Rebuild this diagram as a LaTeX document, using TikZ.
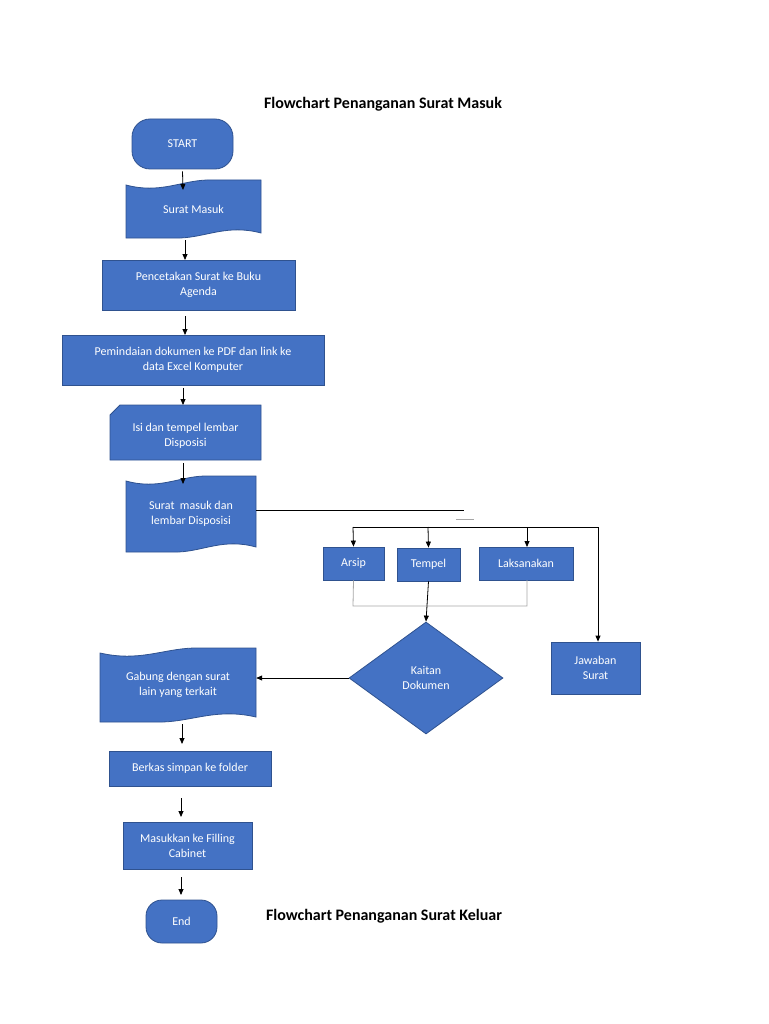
\documentclass[tikz,border=0pt]{standalone}
\usepackage{fontspec}
\setmainfont{Carlito}
\usetikzlibrary{shapes.geometric,arrows.meta}
\definecolor{fillb}{HTML}{4472C4}
\definecolor{edgeb}{HTML}{2F528F}
\newcommand{\tapeshape}[6]{% name x0 y0 x1 y1 text
  \pgfmathsetmacro{\tw}{#4-#2}
  \fill[fillb,draw=edgeb,line width=0.8pt] (#2,#3+5) .. controls (#2+0.25*\tw,#3+14) and (#2+0.4*\tw,#3+1) .. (#2+0.6*\tw,#3) -- (#4,#3) -- (#4,#5-5) .. controls (#4-0.25*\tw,#5-14) and (#4-0.4*\tw,#5-1) .. (#4-0.6*\tw,#5) -- (#2,#5) -- cycle;
  \node[txt,minimum width={(#4-#2)*1pt},minimum height={(#5-#3)*1pt},inner sep=0pt] (#1) at ({(#2+#4)/2},{(#3+#5)/2}) {#6};
}
\tikzset{
  txt/.style={text=white,font=\fontsize{12}{15}\selectfont,align=center},
  box/.style={txt,rectangle,fill=fillb,draw=edgeb,line width=0.8pt,inner sep=0pt},
  term/.style={box,rounded corners=18pt},
  arr/.style={-{Triangle[length=6pt,width=5pt]},line width=0.8pt,black},
  gl/.style={gray!70,line width=0.8pt},
  ttl/.style={font=\fontsize{16}{19}\selectfont\bfseries}
}
\begin{document}
\begin{tikzpicture}[x=1pt,y=-1pt]
\useasboundingbox (0,0) rectangle (768,1024);
\node[ttl] (t1) at (383,104) {Flowchart Penanganan Surat Masuk};
\node[term,minimum width=101pt,minimum height=50pt] (start) at (182.5,144) {START};
\tapeshape{sm}{126}{180}{261}{238}{Surat Masuk}
\node[box,minimum width=193pt,minimum height=50pt] (pc) at (198.5,285) {Pencetakan Surat ke Buku\\Agenda};
\node[box,minimum width=262pt,minimum height=50pt] (pm) at (193,360) {Pemindaian dokumen ke PDF dan link ke\\data Excel Komputer};
\fill[fillb,draw=edgeb,line width=0.8pt] (120,405) -- (261,405) -- (261,460) -- (110,460) -- (110,415) -- cycle;
\node[txt,minimum width=151pt,minimum height=55pt,inner sep=0pt] (isi) at (185.5,436) {Isi dan tempel lembar\\Disposisi};
\tapeshape{sml}{126}{476}{256}{552}{Surat\ \ masuk dan\\lembar Disposisi}
\node[box,minimum width=61pt,minimum height=33pt] (ars) at (353.5,563.5) {Arsip};
\node[box,minimum width=63pt,minimum height=33pt] (tem) at (428.5,564.5) {Tempel};
\node[box,minimum width=94pt,minimum height=33pt] (lak) at (526,563.5) {Laksanakan};
\node[box,minimum width=89pt,minimum height=52pt] (jaw) at (595.5,668) {Jawaban\\Surat};
\node[box,diamond,minimum width=154pt,minimum height=112pt,aspect=1.375] (kai) at (426,678) {Kaitan\\Dokumen};
\tapeshape{gab}{100}{648}{256}{722}{Gabung dengan surat\\lain yang terkait}
\node[box,minimum width=162pt,minimum height=35pt] (ber) at (190,768.5) {Berkas simpan ke folder};
\node[box,minimum width=129pt,minimum height=47pt] (mas) at (187.5,845.5) {Masukkan ke Filling\\Cabinet};
\node[term,minimum width=71pt,minimum height=43pt,rounded corners=16pt] (end) at (181.5,921.5) {End};
\node[ttl] (t2) at (384,916) {Flowchart Penanganan Surat Keluar};
% connectors
\coordinate (e1) at (464,510);
\coordinate (b0) at (353,527);
\coordinate (b1) at (598,527);
\coordinate (g0) at (456,519);
\coordinate (g1) at (474,519);
\coordinate (lo) at (353,606);
\coordinate (lo2) at (527,606);
\draw[arr] (start.south) ++(0,2) -- (183,190);
\draw[arr] (185,240) -- (185,260);
\draw[arr] (185,316) -- (185,335);
\draw[arr] (183,388) -- (183,405);
\draw[arr] (183,463) -- (183,484);
\draw[line width=0.8pt] (256,510) -- (e1);
\draw[gl] (g0) -- (g1);
\draw[line width=0.8pt] (b0) -- (b1);
\draw[arr] (b0) -- (ars.north);
\draw[arr] (428,527) -- (tem.north);
\draw[arr] (527,527) -- (527,547);
\draw[arr] (b1) -- (jaw.north -| b1);
\draw[gl] (ars.south) -- (lo) -- (lo2) -- (527,580);
\draw[arr] (tem.south) -- (kai.north);
\draw[arr] (kai.west) -- (gab.east |- kai.west);
\draw[arr] (182,724) -- (182,744);
\draw[arr] (181,798) -- (181,817);
\draw[arr] (181,877) -- (181,895);
\end{tikzpicture}
\end{document}
